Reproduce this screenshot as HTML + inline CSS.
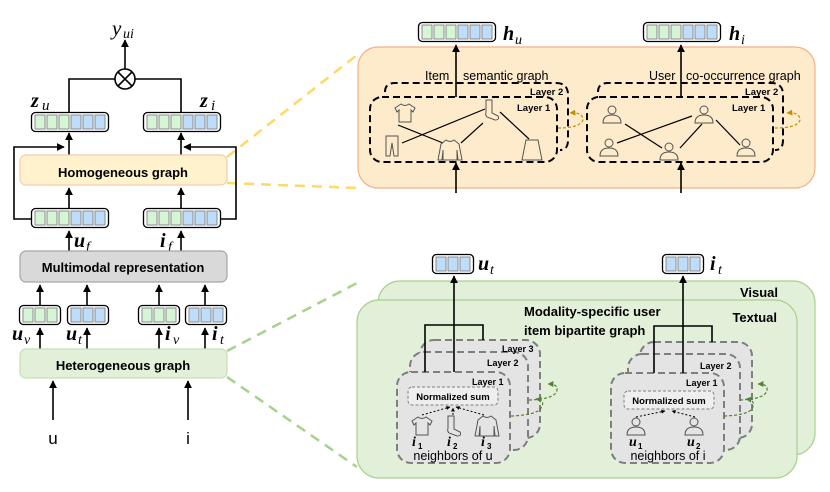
<!DOCTYPE html>
<html><head><meta charset="utf-8"><style>
html,body{margin:0;padding:0;background:#fff;}
svg{display:block;}
.b{font-family:"Liberation Sans",sans-serif;font-weight:bold;}
.m{font-family:"Liberation Serif",serif;font-style:italic;font-weight:bold;}
.mi{font-family:"Liberation Serif",serif;font-style:italic;}
</style></head><body>
<svg width="830" height="492" viewBox="0 0 830 492" xmlns="http://www.w3.org/2000/svg">
<defs>
<marker id="ah" viewBox="0 0 10 10" refX="9" refY="5" markerWidth="5" markerHeight="5" orient="auto"><path d="M0,0L10,5L0,10z" fill="#000"/></marker>
<marker id="ahs" viewBox="0 0 10 10" refX="9" refY="5" markerWidth="4" markerHeight="4" orient="auto"><path d="M0,0L10,5L0,10z" fill="#000"/></marker>
<marker id="ag" viewBox="0 0 10 10" refX="9" refY="5" markerWidth="5" markerHeight="5" orient="auto"><path d="M0,0L10,5L0,10z" fill="#548235"/></marker>
<marker id="ay" viewBox="0 0 10 10" refX="9" refY="5" markerWidth="5" markerHeight="5" orient="auto"><path d="M0,0L10,5L0,10z" fill="#bf9000"/></marker>
<g id="v6">
<rect x="0.5" y="0.5" width="77" height="19" rx="4" fill="#fff" stroke="#000" stroke-width="1.3"/>
<g stroke="#8c8c8c" stroke-width="1">
<rect x="4" y="3" width="10" height="14" fill="#d5f5d5"/><rect x="16" y="3" width="10" height="14" fill="#d5f5d5"/><rect x="28" y="3" width="10" height="14" fill="#d5f5d5"/>
<rect x="40" y="3" width="10" height="14" fill="#bdddfb"/><rect x="52" y="3" width="10" height="14" fill="#bdddfb"/><rect x="64" y="3" width="10" height="14" fill="#bdddfb"/>
</g></g>
<g id="v3g">
<rect x="0.5" y="0.5" width="41" height="19" rx="4" fill="#fff" stroke="#000" stroke-width="1.3"/>
<g stroke="#8c8c8c" fill="#d5f5d5"><rect x="4" y="3" width="10" height="14"/><rect x="16" y="3" width="10" height="14"/><rect x="28" y="3" width="10" height="14"/></g></g>
<g id="v3b">
<rect x="0.5" y="0.5" width="41" height="19" rx="4" fill="#fff" stroke="#000" stroke-width="1.3"/>
<g stroke="#8c8c8c" fill="#bdddfb"><rect x="4" y="3" width="10" height="14"/><rect x="16" y="3" width="10" height="14"/><rect x="28" y="3" width="10" height="14"/></g></g>
<g id="person" fill="none" stroke="#555" stroke-width="1"><circle cx="0" cy="-5" r="4"/><path d="M-9,8 Q-9,0 0,0 Q9,0 9,8 Z"/></g>
<g id="shirt" fill="none" stroke="#555" stroke-width="1"><path d="M-4,-9 L-10,-5 L-8,-1 L-6,-3 L-6,9 L6,9 L6,-3 L8,-1 L10,-5 L4,-9 Q0,-6 -4,-9Z"/></g>
<g id="sock" fill="none" stroke="#555" stroke-width="1"><path d="M-4,-10 L2,-10 L2,3 L8,6 Q10,10 5,10 L-3,7 Q-5,5 -4,2 Z"/></g>
<g id="coat" fill="none" stroke="#555" stroke-width="1"><path d="M-4,-10 L-9,-6 L-12,10 L-8,10 L-7,0 L-7,10 L7,10 L7,0 L8,10 L12,10 L9,-6 L4,-10 Q0,-7 -4,-10Z"/></g>
<g id="pants" fill="none" stroke="#555" stroke-width="1"><path d="M-6,-10 L6,-10 L6,10 L2,10 L0,-3 L-2,10 L-6,10 Z"/></g>
<g id="skirt" fill="none" stroke="#555" stroke-width="1"><path d="M-6,-10 L6,-10 L10,10 L-10,10 Z"/></g>
</defs>

<g stroke="#ffd966" stroke-width="2.5" stroke-dasharray="10,7" fill="none">
<line x1="227" y1="157" x2="357" y2="55"/><line x1="227" y1="183" x2="357" y2="188"/></g>
<g stroke="#a9d18e" stroke-width="2.5" stroke-dasharray="10,7" fill="none">
<line x1="227" y1="351" x2="357" y2="283"/><line x1="227" y1="377" x2="357" y2="467"/></g>

<text x="112" y="35" class="mi" font-size="21">y</text><text x="123" y="38" class="mi" font-size="14">ui</text>
<line x1="125" y1="69" x2="125" y2="40" stroke="#000" stroke-width="1.6" marker-end="url(#ah)"/>
<circle cx="125" cy="79" r="10" fill="#fff" stroke="#000" stroke-width="1.6"/>
<path d="M118,72L132,86M132,72L118,86" stroke="#000" stroke-width="1.6"/>
<path d="M115,79H69V112M135,79H181V112" fill="none" stroke="#000" stroke-width="1.6"/>
<text x="31" y="107" class="m" font-size="20">z</text><text x="42" y="110" class="mi" font-size="15">u</text>
<text x="200" y="107" class="m" font-size="20">z</text><text x="211" y="110" class="mi" font-size="15">i</text>
<use href="#v6" x="31" y="112"/><use href="#v6" x="143" y="112"/>
<g stroke="#000" stroke-width="1.6" fill="none">
<line x1="69" y1="155" x2="69" y2="133" marker-end="url(#ah)"/><line x1="181" y1="155" x2="181" y2="133" marker-end="url(#ah)"/>
<path d="M31,219H14V147H64" marker-end="url(#ah)"/><path d="M219,219H236V147H184" marker-end="url(#ah)"/>
<line x1="69" y1="208" x2="69" y2="188" marker-end="url(#ah)"/><line x1="181" y1="208" x2="181" y2="188" marker-end="url(#ah)"/>
<line x1="69" y1="251" x2="69" y2="231" marker-end="url(#ah)"/><line x1="181" y1="251" x2="181" y2="231" marker-end="url(#ah)"/>
<line x1="40" y1="305" x2="40" y2="285" marker-end="url(#ah)"/><line x1="87" y1="305" x2="87" y2="285" marker-end="url(#ah)"/>
<line x1="159" y1="305" x2="159" y2="285" marker-end="url(#ah)"/><line x1="205" y1="305" x2="205" y2="285" marker-end="url(#ah)"/>
<line x1="40" y1="349" x2="40" y2="328" marker-end="url(#ah)"/><line x1="87" y1="349" x2="87" y2="328" marker-end="url(#ah)"/>
<line x1="159" y1="349" x2="159" y2="328" marker-end="url(#ah)"/><line x1="205" y1="349" x2="205" y2="328" marker-end="url(#ah)"/>
<line x1="53" y1="420" x2="53" y2="381" marker-end="url(#ah)"/><line x1="188" y1="420" x2="188" y2="381" marker-end="url(#ah)"/>
</g>
<rect x="20" y="155" width="207" height="30" rx="6" fill="#fff2cc" stroke="#f8cbad" stroke-width="1.2"/>
<text x="123" y="177" class="b" font-size="13" text-anchor="middle">Homogeneous graph</text>
<use href="#v6" x="31" y="208"/><use href="#v6" x="143" y="208"/>
<text x="74" y="247" class="m" font-size="20">u</text><text x="86" y="251" class="mi" font-size="14">f</text>
<text x="160" y="247" class="m" font-size="20">i</text><text x="168" y="251" class="mi" font-size="14">f</text>
<rect x="20" y="251" width="207" height="31" rx="6" fill="#d9d9d9" stroke="#a6a6a6" stroke-width="1.2"/>
<text x="123" y="272" class="b" font-size="13" text-anchor="middle">Multimodal representation</text>
<use href="#v3g" x="19" y="305"/><use href="#v3b" x="67" y="305"/><use href="#v3g" x="138" y="305"/><use href="#v3b" x="185" y="305"/>
<text x="12" y="340" class="m" font-size="20">u</text><text x="24" y="344" class="mi" font-size="14">v</text>
<text x="66" y="340" class="m" font-size="20">u</text><text x="78" y="344" class="mi" font-size="14">t</text>
<text x="165" y="340" class="m" font-size="20">i</text><text x="173" y="344" class="mi" font-size="14">v</text>
<text x="212" y="340" class="m" font-size="20">i</text><text x="220" y="344" class="mi" font-size="14">t</text>
<rect x="20" y="349" width="207" height="29" rx="6" fill="#e2efd9" stroke="#c5e0b3" stroke-width="1.2"/>
<text x="123" y="370" class="b" font-size="13" text-anchor="middle">Heterogeneous graph</text>
<text x="53" y="444" font-family="Liberation Sans,sans-serif" font-size="17" text-anchor="middle">u</text>
<text x="188" y="444" font-family="Liberation Sans,sans-serif" font-size="17" text-anchor="middle">i</text>

<rect x="358" y="47" width="457" height="141" rx="20" fill="#fdebcc" stroke="#f4b183" stroke-width="1.2"/>
<use href="#v6" x="418" y="22"/><use href="#v6" x="643" y="22"/>
<text x="503" y="40" class="m" font-size="20">h</text><text x="515" y="44" class="mi" font-size="14">u</text>
<text x="729" y="40" class="m" font-size="20">h</text><text x="741" y="44" class="mi" font-size="14">i</text>
<g font-family="Liberation Sans,sans-serif" font-size="12.5">
<text x="425" y="80">Item</text><text x="463" y="80">semantic graph</text>
<text x="649" y="80">User</text><text x="686" y="80">co-occurrence graph</text></g>
<g fill="none" stroke="#000" stroke-width="2" stroke-dasharray="7,4">
<path d="M385,92 Q385,83 395,83 H556 Q568,83 568,95 V140 Q568,150 560,150"/>
<rect x="370" y="97" width="187" height="65" rx="12"/>
<path d="M598,92 Q598,83 608,83 H771 Q783,83 783,95 V140 Q783,150 775,150"/>
<rect x="587" y="97" width="186" height="65" rx="12"/></g>
<g class="b" font-size="9.5"><text x="530" y="95">Layer 2</text><text x="517" y="111">Layer 1</text>
<text x="745" y="95">Layer 2</text><text x="732" y="111">Layer 1</text></g>
<line x1="456" y1="97" x2="456" y2="45" stroke="#000" stroke-width="1.6" marker-end="url(#ah)"/>
<line x1="681" y1="97" x2="681" y2="45" stroke="#000" stroke-width="1.6" marker-end="url(#ah)"/>
<line x1="456" y1="193" x2="456" y2="163" stroke="#000" stroke-width="1.6" marker-end="url(#ah)"/>
<line x1="681" y1="193" x2="681" y2="163" stroke="#000" stroke-width="1.6" marker-end="url(#ah)"/>
<g stroke="#000" stroke-width="1.2"><line x1="402" y1="143" x2="485" y2="109"/><line x1="398" y1="125" x2="443" y2="143"/><line x1="461" y1="143" x2="483" y2="123"/><line x1="500" y1="112" x2="529" y2="139"/>
<line x1="617" y1="143" x2="692" y2="116"/><line x1="625" y1="124" x2="662" y2="148"/><line x1="680" y1="148" x2="702" y2="124"/><line x1="716" y1="120" x2="740" y2="145"/></g>
<use href="#shirt" x="405" y="113"/><use href="#pants" x="392" y="146"/><use href="#coat" x="450" y="150"/><use href="#sock" x="490" y="110"/><use href="#skirt" x="532" y="150"/>
<use href="#person" x="612" y="115"/><use href="#person" x="609" y="148"/><use href="#person" x="669" y="152"/><use href="#person" x="704" y="115"/><use href="#person" x="746" y="148"/>
<g fill="none" stroke="#bf9000" stroke-width="1.2" stroke-dasharray="3,2">
<path d="M558,128 Q580,128 583,120 Q583,112 570,113" marker-end="url(#ay)"/>
<path d="M775,128 Q798,128 800,120 Q800,112 787,113" marker-end="url(#ay)"/></g>

<rect x="378" y="281" width="437" height="174" rx="22" fill="#e2efd9" stroke="#a9d18e" stroke-width="1.2"/>
<rect x="357" y="300" width="440" height="178" rx="22" fill="#e2efd9" stroke="#a9d18e" stroke-width="1.2"/>
<text x="778" y="297" class="b" font-size="13" text-anchor="end">Visual</text>
<text x="777" y="322" class="b" font-size="13" text-anchor="end">Textual</text>
<text x="524" y="316" class="b" font-size="13">Modality-specific user</text>
<text x="524" y="335" class="b" font-size="13">item bipartite graph</text>
<use href="#v3b" x="432" y="254"/><use href="#v3b" x="662" y="254"/>
<text x="478" y="270" class="m" font-size="20">u</text><text x="490" y="274" class="mi" font-size="14">t</text>
<text x="710" y="270" class="m" font-size="20">i</text><text x="718" y="274" class="mi" font-size="14">t</text>
<g fill="#e4e4e4" stroke="#7f7f7f" stroke-width="2" stroke-dasharray="7,4">
<rect x="420" y="340" width="120" height="98" rx="14"/>
<rect x="410" y="352" width="118" height="98" rx="14"/>
<rect x="397" y="372" width="113" height="91" rx="14"/>
<rect x="640" y="342" width="112" height="96" rx="14"/>
<rect x="628" y="354" width="112" height="96" rx="14"/>
<rect x="611" y="373" width="113" height="90" rx="14"/></g>
<g class="b" font-size="9"><text x="502" y="352">Layer 3</text><text x="487" y="366">Layer 2</text><text x="472" y="385">Layer 1</text>
<text x="700" y="369">Layer 2</text><text x="686" y="386">Layer 1</text></g>
<g fill="none" stroke="#000" stroke-width="1.6">
<path d="M425,372V325H483V340"/><line x1="454" y1="372" x2="454" y2="276" marker-end="url(#ah)"/>
<path d="M654,373V326H712V342"/><line x1="683" y1="373" x2="683" y2="276" marker-end="url(#ah)"/></g>
<g fill="#eee" stroke="#7f7f7f" stroke-dasharray="3,2"><rect x="408" y="387" width="90" height="18" rx="4"/><rect x="624" y="391" width="90" height="18" rx="4"/></g>
<g class="b" font-size="9.5" text-anchor="middle"><text x="453" y="400">Normalized sum</text><text x="669" y="404">Normalized sum</text></g>
<g stroke="#000" stroke-width="1" stroke-dasharray="2,2" fill="none">
<line x1="422" y1="415" x2="450" y2="407" marker-end="url(#ahs)"/><line x1="453" y1="415" x2="453" y2="408" marker-end="url(#ahs)"/><line x1="484" y1="415" x2="456" y2="407" marker-end="url(#ahs)"/>
<line x1="636" y1="417" x2="665" y2="411" marker-end="url(#ahs)"/><line x1="695" y1="417" x2="672" y2="411" marker-end="url(#ahs)"/></g>
<use href="#shirt" x="422" y="426"/><use href="#sock" x="452" y="426"/><use href="#coat" x="487" y="426"/>
<use href="#person" x="636" y="427"/><use href="#person" x="694" y="427"/>
<text x="412" y="446" class="m" font-size="14">i</text><text x="418" y="449" class="b" font-size="8">1</text>
<text x="447" y="446" class="m" font-size="14">i</text><text x="453" y="449" class="b" font-size="8">2</text>
<text x="481" y="446" class="m" font-size="14">i</text><text x="487" y="449" class="b" font-size="8">3</text>
<text x="629" y="446" class="m" font-size="14">u</text><text x="638" y="449" class="b" font-size="8">1</text>
<text x="687" y="446" class="m" font-size="14">u</text><text x="696" y="449" class="b" font-size="8">2</text>
<g font-family="Liberation Sans,sans-serif" font-size="12.5" text-anchor="middle"><text x="453" y="460">neighbors of u</text><text x="668" y="460">neighbors of i</text></g>
<g fill="none" stroke="#548235" stroke-width="1.2" stroke-dasharray="3,2">
<path d="M511,416 Q540,415 542,406 Q545,400 536,399" marker-end="url(#ag)"/>
<path d="M529,400 Q556,399 557,390 Q558,384 548,384" marker-end="url(#ag)"/>
<path d="M724,416 Q752,415 753,406 Q755,400 746,399" marker-end="url(#ag)"/>
<path d="M740,400 Q766,399 767,390 Q768,384 758,384" marker-end="url(#ag)"/></g>
</svg>
</body></html>
